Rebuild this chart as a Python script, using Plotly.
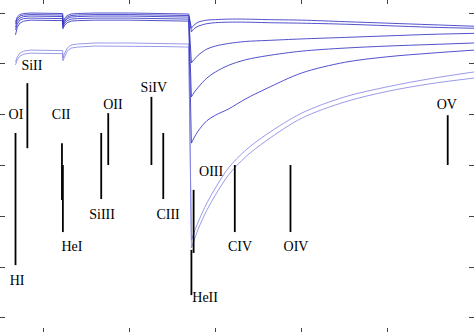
import plotly.graph_objects as go

# Photon energy grid (eV)
energy = [13.6, 14.0, 14.6, 15.5, 17, 20, 24.55, 24.6, 25.0, 25.6, 26.5, 28, 32, 40, 48, 53.8,
          54.42, 55, 56, 58, 60, 63, 67, 72, 80, 90, 100, 110, 120]
EDGE = 16  # index of the He II edge minimum

# log flux of the attenuated spectra
flux_a = [-0.18, -0.08, -0.03, -0.01, 0, 0, -0.01, -0.18, -0.10, -0.05, -0.02, -0.01, 0, 0, -0.01, -0.02,
          -0.30, -0.24, -0.18, -0.14, -0.13, -0.12, -0.12, -0.13, -0.14, -0.17, -0.20, -0.23, -0.26]
flux_b = [-0.22, -0.12, -0.06, -0.04, -0.03, -0.03, -0.04, -0.22, -0.14, -0.08, -0.05, -0.04, -0.03, -0.03, -0.04, -0.05,
          -0.37, -0.31, -0.26, -0.21, -0.19, -0.18, -0.18, -0.19, -0.20, -0.22, -0.25, -0.28, -0.30]
flux_c = [-0.28, -0.16, -0.10, -0.07, -0.06, -0.06, -0.07, -0.24, -0.17, -0.11, -0.08, -0.07, -0.06, -0.06, -0.07, -0.08,
          -0.98, -0.92, -0.83, -0.71, -0.65, -0.60, -0.56, -0.54, -0.51, -0.48, -0.45, -0.42, -0.40]
flux_d = [-0.33, -0.22, -0.14, -0.11, -0.10, -0.10, -0.11, -0.28, -0.20, -0.15, -0.12, -0.11, -0.10, -0.10, -0.11, -0.12,
          -1.65, -1.57, -1.46, -1.28, -1.16, -1.03, -0.92, -0.84, -0.75, -0.69, -0.65, -0.62, -0.59]
flux_e = [-0.43, -0.28, -0.20, -0.16, -0.14, -0.14, -0.15, -0.31, -0.24, -0.19, -0.16, -0.15, -0.14, -0.14, -0.15, -0.16,
          -2.56, -2.46, -2.32, -2.12, -2.01, -1.89, -1.69, -1.48, -1.18, -0.97, -0.86, -0.79, -0.73]
flux_l1 = [-0.96, -0.87, -0.79, -0.75, -0.73, -0.73, -0.74, -0.89, -0.79, -0.69, -0.63, -0.61, -0.59, -0.59, -0.60, -0.61,
           -4.47, -4.33, -4.11, -3.74, -3.44, -3.05, -2.70, -2.38, -1.97, -1.65, -1.45, -1.29, -1.16]
flux_l2 = [-1.02, -0.92, -0.85, -0.81, -0.79, -0.79, -0.80, -0.94, -0.85, -0.75, -0.69, -0.67, -0.65, -0.65, -0.66, -0.67,
           -4.62, -4.48, -4.25, -3.88, -3.58, -3.19, -2.83, -2.50, -2.07, -1.75, -1.54, -1.39, -1.28]

dark_series = [flux_a, flux_b, flux_c, flux_d, flux_e]
light_series = [flux_l1, flux_l2]

# Ionisation edges: energy, marker top, marker bottom
edge_energy = [13.6, 16.35, 24.38, 24.59, 35.12, 33.49, 45.14, 47.89, 54.93, 54.42, 64.49, 77.41, 113.9]
edge_top = [-2.36, -1.38, -2.56, -2.99, -1.97, -2.36, -1.65, -2.36, -3.48, -4.66, -2.99, -2.99, -2.01]
edge_bottom = [-4.96, -2.66, -3.68, -4.31, -2.99, -3.66, -2.99, -3.66, -4.72, -5.55, -4.31, -4.31, -2.99]

# Ion labels
label_text = ["OI", "HI", "SiII", "CII", "HeI", "OII", "SiIII", "SiIV", "CIII", "OIII", "HeII", "CIV", "OIV", "OV"]
label_x = [13.7, 13.95, 17.4, 24.2, 26.7, 36.2, 33.7, 45.7, 49.0, 59.0, 57.6, 65.7, 78.7, 113.7]
label_y = [-2.01, -5.29, -1.06, -2.01, -4.62, -1.81, -3.99, -1.48, -3.99, -3.13, -5.61, -4.62, -4.62, -1.81]

fig = go.Figure()


def add_spectrum(s, color):
    # below the He II edge: straight segments keep the sharp H I / He I edges
    fig.add_trace(go.Scatter(x=energy[:EDGE + 1], y=s[:EDGE + 1], mode="lines",
                             line=dict(color=color, width=1), hoverinfo="skip"))
    # recovery above the He II edge: smooth curve
    fig.add_trace(go.Scatter(x=energy[EDGE:], y=s[EDGE:], mode="lines",
                             line=dict(color=color, width=1, shape="spline", smoothing=0.9),
                             hoverinfo="skip"))


for s in light_series:
    add_spectrum(s, "rgba(120,120,225,0.75)")
for s in dark_series:
    add_spectrum(s, "rgba(50,50,195,0.85)")

for e, t, b in zip(edge_energy, edge_top, edge_bottom):
    fig.add_trace(go.Scatter(x=[e, e], y=[t, b], mode="lines",
                             line=dict(color="black", width=1.8), hoverinfo="skip"))

fig.add_trace(go.Scatter(x=label_x, y=label_y, mode="text", text=label_text,
                         textposition="middle center",
                         textfont=dict(family="Liberation Serif", size=14, color="black"),
                         hoverinfo="skip"))

fig.update_layout(
    width=474, height=332,
    margin=dict(l=0, r=0, t=0, b=0),
    paper_bgcolor="white", plot_bgcolor="white",
    showlegend=False,
)
fig.update_xaxes(range=[10, 120], tickmode="array", tickvals=[20, 40, 60, 80, 100, 120],
                 ticks="inside", ticklen=4, tickwidth=1, tickcolor="#444",
                 showticklabels=False, showgrid=False, zeroline=False,
                 showline=False, mirror="ticks")
fig.update_yaxes(range=[-6.276, 0.256], tickmode="array", tickvals=[0, -1, -2, -3, -4, -5, -6],
                 ticks="inside", ticklen=5, tickwidth=1, tickcolor="#444",
                 showticklabels=False, showgrid=False, zeroline=False,
                 showline=False, mirror="ticks")

fig.write_html("out.html")
